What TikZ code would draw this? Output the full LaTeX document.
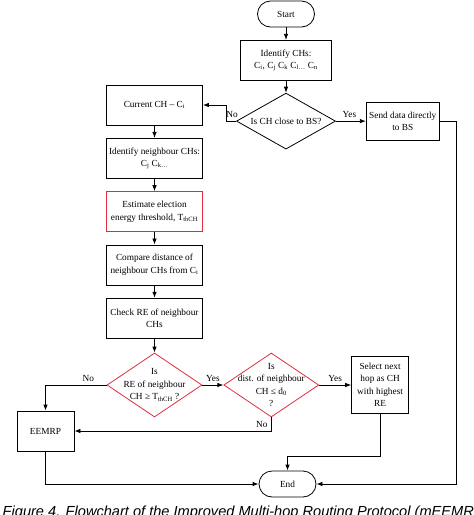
\documentclass[tikz,border=0pt]{standalone}
\usepackage{fontspec}
\setmainfont{Liberation Serif}
\newfontfamily\capfont{Liberation Sans}
\usetikzlibrary{positioning, shapes.geometric, arrows.meta}
\definecolor{flowred}{RGB}{222,45,65}

\begin{document}
\begin{tikzpicture}[x=1pt, y=-1pt, node distance=12.5pt, >={Latex[length=6pt,width=4.5pt]}, line width=0.8pt,
  every node/.style={font=\fontsize{9.3}{12.5}\selectfont, align=center},
  box/.style={draw, minimum width=96pt, minimum height=40pt, inner xsep=1pt},
  redbox/.style={box, draw=flowred},
  term/.style={draw, rounded corners=13pt, minimum width=57pt, minimum height=26pt},
  choice/.style={draw, diamond, inner sep=0pt, minimum width=95pt, minimum height=64pt},
  redchoice/.style={choice, draw=flowred}]
  \useasboundingbox (0,0) rectangle (474,515);

  \node[term]                                      (start) at (286,14) {Start};
  \node[box, minimum width=91pt, below=of start]   (chs)   {Identify CHs:\\C\textsubscript{i}, C\textsubscript{j} C\textsubscript{k} C\textsubscript{l\ldots} C\textsubscript{n}};
  \node[choice, minimum width=99pt, minimum height=56pt, below=12pt of chs,
        label=center:{Is CH close to BS?}]          (close) {};
  \node[box, minimum width=73pt, minimum height=38pt, right=30pt of close] (send) {Send data directly\\to BS};

  \node[box]                    (cur)  at (154.5,105) {Current CH -- C\textsubscript{i}};
  \node[box, below=of cur]      (nbr)  {Identify neighbour CHs:\\C\textsubscript{j} C\textsubscript{k\ldots}};
  \node[redbox, below=of nbr]   (est)  {Estimate election\\energy threshold, T\textsubscript{thCH}};
  \node[box, below=of est]      (dist) {Compare distance of\\neighbour CHs from C\textsubscript{i}};
  \node[box, below=of dist]     (re)   {Check RE of neighbour\\CHs};
  \node[redchoice, below=14pt of re,
        label={center:{Is\\RE of neighbour\\CH ≥ T\textsubscript{thCH} ?}}]  (rechk) {};
  \node[redchoice, right=21pt of rechk,
        label={center:{Is\\dist. of neighbour\\CH ≤ d\textsubscript{0}\\?}}] (dchk) {};
  \node[box, minimum width=57pt, minimum height=57pt, right=32pt of dchk] (next) {Select next\\hop as CH\\with highest\\RE};
  \node[box, minimum width=57pt] (eemrp) at (45.5,431) {EEMRP};
  \node[term]                    (end)   at (287.5,484) {End};

  \node[font=\capfont\itshape\fontsize{14.6}{18}\selectfont, anchor=base west] (cap) at (-1,516)
    {Figure 4. Flowchart of the Improved Multi-hop Routing Protocol (mEEMRP)};

  \draw[->] (start) -- (chs);
  \draw[->] (chs) -- (close);
  \draw[->] (close) -- node[above, pos=0.45] {Yes} (send);
  \draw[->] (close.west) -- ++(-10,0) node[above, pos=0.4] {No} |- (cur.east);
  \draw[->] (cur) -- (nbr);
  \draw[->] (nbr) -- (est);
  \draw[->] (est) -- (dist);
  \draw[->] (dist) -- (re);
  \draw[->] (re) -- (rechk);
  \draw[->] (rechk.west) -| node[above, pos=0.15] {No} (eemrp.north);
  \draw[->] (rechk) -- node[above] {Yes} (dchk);
  \draw[->] (dchk) -- node[above] {Yes} (next);
  \draw[->] (dchk.south) |- node[left, pos=0.25] {No} (eemrp.east);
  \draw[->] (next.south) -- ++(0,42) -| (end.north);
  \draw[->] (eemrp.south) |- (end.west);
  \draw[->] (send.east) -- ++(17,0) |- (end.east);
\end{tikzpicture}
\end{document}
